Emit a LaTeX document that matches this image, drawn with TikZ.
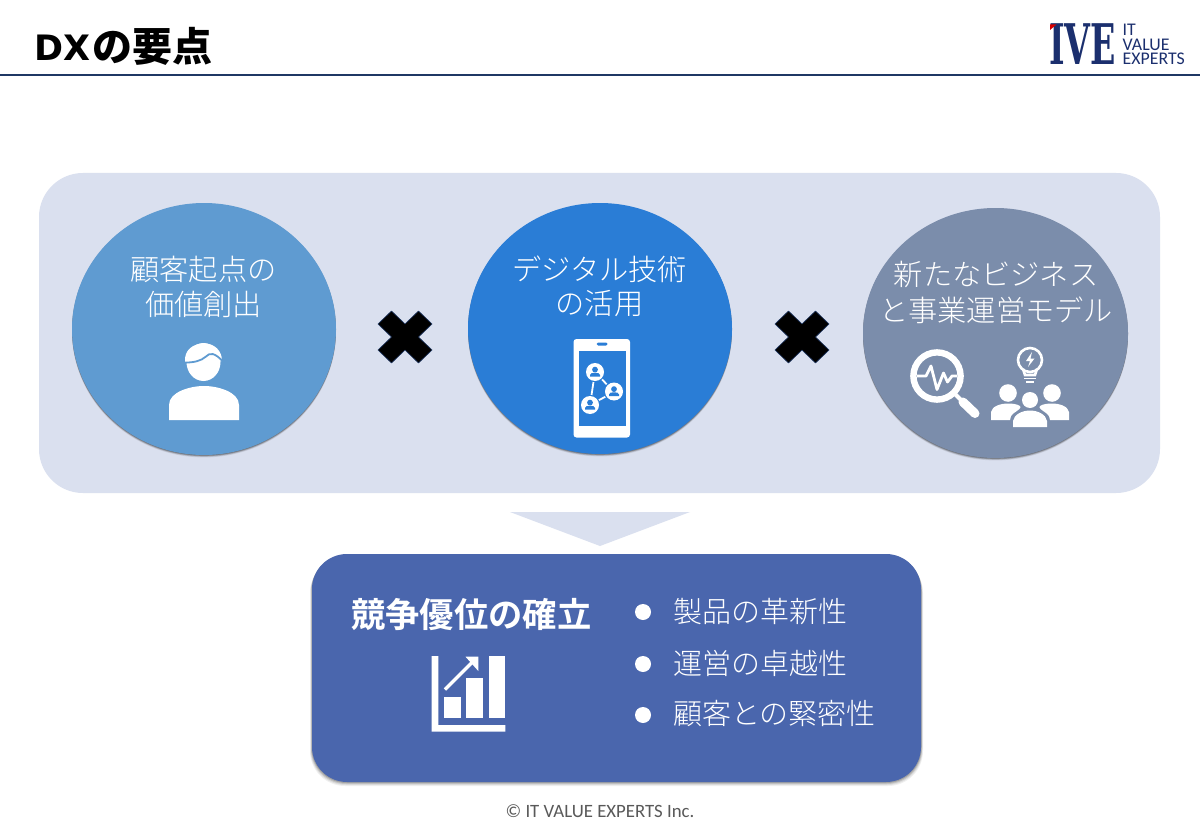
\documentclass[tikz,border=0pt]{standalone}
\usepackage{fontspec}
\setmainfont{Noto Sans CJK JP}
\newfontfamily\jp{Noto Sans CJK JP Light}
\newfontfamily\jpb{Noto Sans CJK JP Bold}
\newfontfamily\jpk{Noto Sans CJK JP Black}
\newfontfamily\djb{DejaVu Sans Bold}
\newfontfamily\carl{Carlito}
\newfontfamily\logoser{DejaVu Serif Condensed Bold}
\usetikzlibrary{calc}
\definecolor{panelc}{HTML}{DAE0EF}
\definecolor{boxc}{HTML}{4A66AD}
\definecolor{ruleC}{HTML}{1F3864}
\definecolor{logoC}{HTML}{1B2F6E}
\definecolor{c1}{HTML}{5F9BD1}
\definecolor{c2}{HTML}{2A7DD6}
\definecolor{c3}{HTML}{7B8DAB}
\tikzset{
  circtext/.style={text=white,align=center,inner sep=0pt,font=\jp\fontsize{29.2}{35}\selectfont},
  boxtext/.style={text=white,anchor=west,inner sep=0pt,font=\jp\fontsize{29}{35}\selectfont},
  logotext/.style={anchor=west,inner sep=0pt,text=logoC,align=left,font=\carl\fontsize{17.8}{14.5}\selectfont},
  bulletdot/.style={circle,fill=white,minimum size=16pt,inner sep=0pt},
  timesmark/.style={fill=black,draw=ruleC,line width=0.6pt,line join=round},
}
\newcommand{\softshadow}[3]{%
  \foreach \o/\a in {2.4/0.08,1.8/0.12,1.2/0.16,0.6/0.22}{
    \fill[black,opacity=\a] (#1,#2+\o) ellipse [#3];
  }
}
\newcommand{\timessign}[2]{%
  \begin{scope}[shift={(#1,#2)}]
    \draw[timesmark] (-13.5,-26)--(0,-13)--(13.5,-26)--(27,-13)--(13.5,0)--(27,13)--(13.5,26)--(0,13)--(-13.5,26)--(-27,13)--(-13.5,0)--(-27,-13)--cycle;
  \end{scope}}
\newcommand{\netuser}[2]{%
  \begin{scope}[shift={(#1,#2)}]
    \fill[c2] (0,0) circle (10.2);
    \fill[white] (0,0) circle (9);
    \fill[c2] (0,-2.4) circle (2.9);
    \fill[c2] (-5,4.6) -- (-5,3) .. controls (-5,1) and (-2.5,0.8) .. (0,0.8) .. controls (2.5,0.8) and (5,1) .. (5,3) -- (5,4.6) -- cycle;
  \end{scope}}
\begin{document}
\begin{tikzpicture}[x=1pt,y=-1pt]
\useasboundingbox (0,0) rectangle (1200,832);
\fill[white] (0,0) rectangle (1200,832);

% header
\node[anchor=west,inner sep=0pt,text=black] (title) at (34.5,46.5) {\raisebox{1.5pt}{\djb\fontsize{35}{44}\selectfont DX}\kern2pt{\jpk\fontsize{40}{44}\selectfont の要点}};
\draw[ruleC,line width=2pt] (0,75) -- (1200,75);

% logo
\node[anchor=west,inner sep=0pt,text=logoC,xscale=0.66,font=\logoser\fontsize{56}{56}\selectfont] (logoive) at (1049,44.5) {IVE};
\fill[red!85!black] (1050,24.5) -- (1056.5,24.5) -- (1050,30) -- cycle;
\node[logotext] (logoa) at (1122.5,44.5) {IT\\VALUE\\EXPERTS};

% panel
\fill[panelc,rounded corners=44pt] (39,173) rectangle (1160,493);

% circles
\softshadow{204}{329}{x radius=132,y radius=126}
\fill[c1] (204,329) ellipse [x radius=132,y radius=126];
\softshadow{600}{328.5}{x radius=132,y radius=125.5}
\fill[c2] (600,328.5) ellipse [x radius=132,y radius=125.5];
\softshadow{995.5}{333}{x radius=132.5,y radius=125}
\fill[c3] (995.5,333) ellipse [x radius=132.5,y radius=125];

\node[circtext] (t1a) at (203.5,269) {顧客起点の};
\node[circtext] (t1b) at (203.5,304) {価値創出};
\node[circtext] (t2a) at (599.5,269) {デジタル技術};
\node[circtext] (t2b) at (599.5,304) {の活用};
\node[circtext] (t3a) at (996,275) {新たなビジネス};
\node[circtext] (t3b) at (996,310) {と事業運営モデル};

% person icon
\fill[white] (203.5,362) ellipse [x radius=17,y radius=19];
\fill[white] (185,362) .. controls (184,350) and (193,343.5) .. (204,343.5) .. controls (215,343.5) and (222,351) .. (222,361) -- (205,364) -- cycle;
\draw[c1,line width=1.8pt] (184,362.6) .. controls (194,362.6) and (201,361) .. (206,356.5) .. controls (210,352) and (215,353) .. (223,361.5);
\fill[white] (169,420) -- (169,405) .. controls (169,392) and (190,386) .. (204,386) .. controls (218,386) and (239,392) .. (239,405) -- (239,420) -- cycle;

% phone icon
\fill[white,rounded corners=3pt] (573.5,339) rectangle (630,437.5);
\fill[c2] (578.5,351) rectangle (626,426);
\fill[c2,rounded corners=1.5pt] (596.5,342.5) rectangle (607.5,345.5);
\draw[white,line width=1.8pt] (595,372) -- (614,392) -- (590,405) -- cycle;
\netuser{595}{372}
\netuser{614}{391.5}
\netuser{590}{405}

% analysis icon
\draw[white,line width=6.4pt] (937,376) circle (23.6);
\draw[white,line width=4pt] (955,394) -- (961,400);
\draw[white,line width=9pt,line cap=round] (963,402) -- (975,413.5);
\draw[white,line width=2.8pt,line join=round] (917,376) -- (926,376) -- (931,366) -- (937,389.5) -- (943.5,373) -- (947.5,382) -- (952,376) -- (957,376);

% bulb + people icon
\draw[white,line width=2.6pt] (1030,360) circle (12);
\draw[white,line width=2.6pt] (1023,369) -- (1025,375) -- (1035,375) -- (1037,369);
\draw[white,line width=1.8pt] (1024,378.5) -- (1036,378.5);
\draw[white,line width=1.6pt] (1026,382) -- (1034,382);
\fill[white] (1032,352) -- (1026,361) -- (1030,361) -- (1028,367) -- (1034.5,358.5) -- (1030.5,358.5) -- cycle;
\fill[white] (1008,393) circle (8.8);
\fill[white] (1052,393) circle (8.8);
\fill[c3] (1030,400) circle (10);
\fill[white] (1030,400) circle (8);
\fill[white] (991,420) -- (991,412) .. controls (992,406) and (1001,403.5) .. (1008,403.5) .. controls (1012,403.5) and (1017,404) .. (1020,406) .. controls (1022,408) and (1018,410) .. (1014,413) .. controls (1011,415) and (1010,418) .. (1010,420) -- cycle;
\fill[white] (1069,420) -- (1069,412) .. controls (1068,406) and (1059,403.5) .. (1052,403.5) .. controls (1048,403.5) and (1043,404) .. (1040,406) .. controls (1038,408) and (1042,410) .. (1046,413) .. controls (1049,415) and (1050,418) .. (1050,420) -- cycle;
\fill[white] (1013,427) -- (1013,421) .. controls (1014,414) and (1023,410.5) .. (1030,410.5) .. controls (1037,410.5) and (1046,414) .. (1047,421) -- (1047,427) -- cycle;

% times signs
\timessign{405}{337}
\timessign{802}{337}

% triangle
\fill[panelc] (510,512) -- (690,512) -- (600,546) -- cycle;

% result box
\foreach \o/\a in {4/0.06,3/0.08,2/0.12,1/0.16}{
  \fill[black,opacity=\a,rounded corners=35pt] (312-\o/2,554+\o) rectangle (921+\o/2,782+\o);
}
\fill[boxc,rounded corners=35pt] (312,554) rectangle (921,782);
\node[anchor=west,inner sep=0pt,text=white,font=\jpb\fontsize{34.3}{38}\selectfont] (boxtitle) at (351,615) {競争優位の確立};

% chart icon
\fill[white] (431.7,656) -- (438.3,656) -- (438.3,725) -- (505.3,725) -- (505.3,731.7) -- (431.7,731.7) -- cycle;
\fill[white] (444.3,697) rectangle (460.7,718.3);
\fill[white] (466.3,677.7) rectangle (482.7,718.3);
\fill[white] (489.3,656) rectangle (505.3,718.3);
\draw[white,line width=3.4pt] (445,689.5) -- (473,661.5);
\fill[white] (465.5,656.7) -- (478.3,656.7) -- (478.3,671) -- cycle;

% bullets
\node[bulletdot] (b1) at (643,612) {};
\node[bulletdot] (b2) at (643,664) {};
\node[bulletdot] (b3) at (643,715) {};
\node[boxtext] (l1) at (673,612) {製品の革新性};
\node[boxtext] (l2) at (673,663) {運営の卓越性};
\node[boxtext] (l3) at (673,714) {顧客との緊密性};

% footer
\node[inner sep=0pt,text=black!65,font=\carl\fontsize{18.8}{20}\selectfont] (foot) at (600,811) {© IT VALUE EXPERTS Inc.};
\end{tikzpicture}
\end{document}
